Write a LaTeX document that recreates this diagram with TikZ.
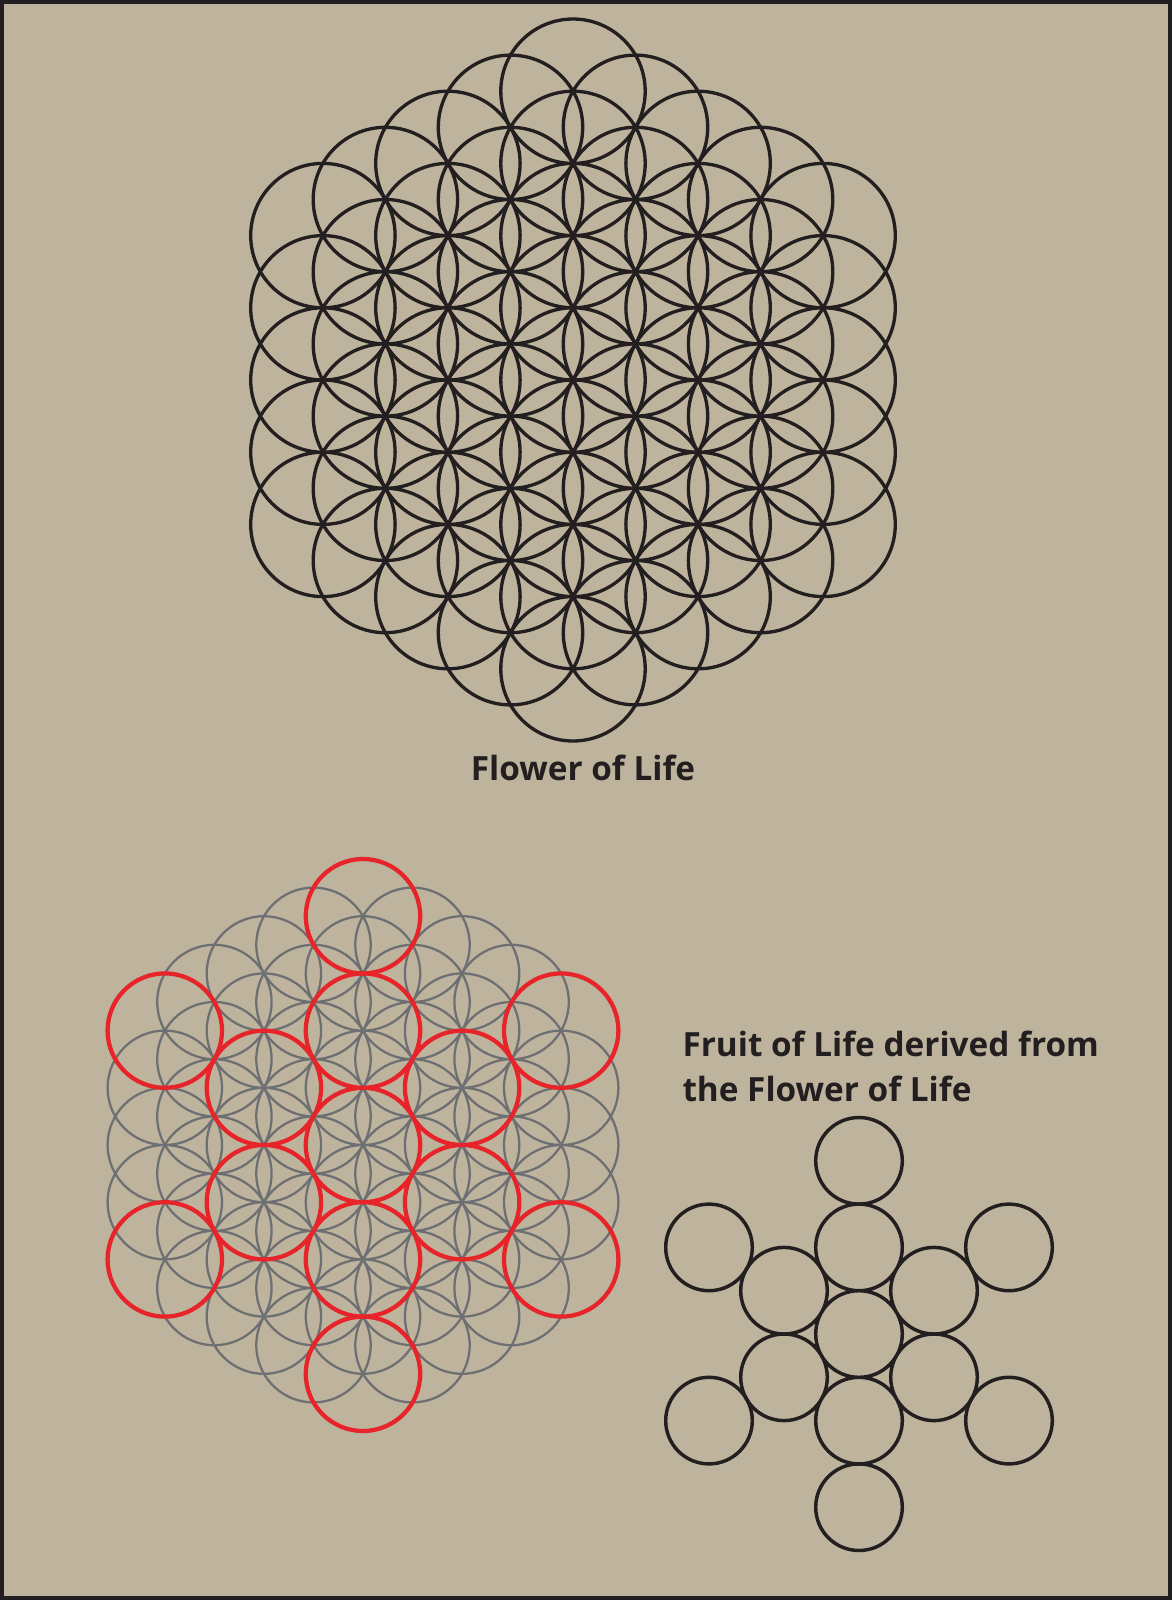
\documentclass[tikz,border=0pt]{standalone}
\usepackage{fontspec}
\setmainfont{Open Sans}
\tikzset{every picture/.style={line width=0.75pt}}
\tikzset{
  flowerline/.style={draw={rgb, 255:red, 35; green, 31; blue, 32 }, line width=2.5pt},
  greyline/.style={draw={rgb, 255:red, 110; green, 111; blue, 115 }, line width=1.7pt},
  fruitred/.style={draw={rgb, 255:red, 230; green, 36; blue, 41 }, line width=3.2pt},
  fruitline/.style={draw={rgb, 255:red, 35; green, 31; blue, 32 }, line width=2.6pt},
  titletext/.style={text={rgb, 255:red, 35; green, 31; blue, 32 }, font=\fontsize{25pt}{33.75pt}\selectfont\bfseries, inner sep=0pt}
}

\begin{document}
\begin{tikzpicture}[x=0.75pt,y=0.75pt,yscale=-1,xscale=1]
\useasboundingbox (0,0) rectangle (1172,1600);

%Shape: Rectangle (background and frame)
\draw  [fill={rgb, 255:red, 190; green, 180; blue, 157 }, draw={rgb, 255:red, 35; green, 31; blue, 32 }, line width=3pt] (2,2) -- (1170,2) -- (1170,1598) -- (2,1598) -- cycle ;

%Shape: Circle (flower, column -4)
\draw  [flowerline] (322.9,235.6) circle (72.2) (322.9,307.8) circle (72.2) (322.9,380) circle (72.2) (322.9,452.2) circle (72.2) (322.9,524.4) circle (72.2) ;
%Shape: Circle (flower, column -3)
\draw  [flowerline] (385.4,199.5) circle (72.2) (385.4,271.7) circle (72.2) (385.4,343.9) circle (72.2) (385.4,416.1) circle (72.2) (385.4,488.3) circle (72.2) (385.4,560.5) circle (72.2) ;
%Shape: Circle (flower, column -2)
\draw  [flowerline] (447.9,163.4) circle (72.2) (447.9,235.6) circle (72.2) (447.9,307.8) circle (72.2) (447.9,380) circle (72.2) (447.9,452.2) circle (72.2) (447.9,524.4) circle (72.2) (447.9,596.6) circle (72.2) ;
%Shape: Circle (flower, column -1)
\draw  [flowerline] (510.5,127.3) circle (72.2) (510.5,199.5) circle (72.2) (510.5,271.7) circle (72.2) (510.5,343.9) circle (72.2) (510.5,416.1) circle (72.2) (510.5,488.3) circle (72.2) (510.5,560.5) circle (72.2) (510.5,632.7) circle (72.2) ;
%Shape: Circle (flower, column 0)
\draw  [flowerline] (573,91.2) circle (72.2) (573,163.4) circle (72.2) (573,235.6) circle (72.2) (573,307.8) circle (72.2) (573,380) circle (72.2) (573,452.2) circle (72.2) (573,524.4) circle (72.2) (573,596.6) circle (72.2) (573,668.8) circle (72.2) ;
%Shape: Circle (flower, column 1)
\draw  [flowerline] (635.5,127.3) circle (72.2) (635.5,199.5) circle (72.2) (635.5,271.7) circle (72.2) (635.5,343.9) circle (72.2) (635.5,416.1) circle (72.2) (635.5,488.3) circle (72.2) (635.5,560.5) circle (72.2) (635.5,632.7) circle (72.2) ;
%Shape: Circle (flower, column 2)
\draw  [flowerline] (698.1,163.4) circle (72.2) (698.1,235.6) circle (72.2) (698.1,307.8) circle (72.2) (698.1,380) circle (72.2) (698.1,452.2) circle (72.2) (698.1,524.4) circle (72.2) (698.1,596.6) circle (72.2) ;
%Shape: Circle (flower, column 3)
\draw  [flowerline] (760.6,199.5) circle (72.2) (760.6,271.7) circle (72.2) (760.6,343.9) circle (72.2) (760.6,416.1) circle (72.2) (760.6,488.3) circle (72.2) (760.6,560.5) circle (72.2) ;
%Shape: Circle (flower, column 4)
\draw  [flowerline] (823.1,235.6) circle (72.2) (823.1,307.8) circle (72.2) (823.1,380) circle (72.2) (823.1,452.2) circle (72.2) (823.1,524.4) circle (72.2) ;

%Shape: Circle (grey flower, column -4)
\draw  [greyline] (164.8,1030.6) circle (57.2) (164.8,1087.8) circle (57.2) (164.8,1145) circle (57.2) (164.8,1202.2) circle (57.2) (164.8,1259.4) circle (57.2) ;
%Shape: Circle (grey flower, column -3)
\draw  [greyline] (214.4,1002) circle (57.2) (214.4,1059.2) circle (57.2) (214.4,1116.4) circle (57.2) (214.4,1173.6) circle (57.2) (214.4,1230.8) circle (57.2) (214.4,1288) circle (57.2) ;
%Shape: Circle (grey flower, column -2)
\draw  [greyline] (263.9,973.4) circle (57.2) (263.9,1030.6) circle (57.2) (263.9,1087.8) circle (57.2) (263.9,1145) circle (57.2) (263.9,1202.2) circle (57.2) (263.9,1259.4) circle (57.2) (263.9,1316.6) circle (57.2) ;
%Shape: Circle (grey flower, column -1)
\draw  [greyline] (313.5,944.8) circle (57.2) (313.5,1002) circle (57.2) (313.5,1059.2) circle (57.2) (313.5,1116.4) circle (57.2) (313.5,1173.6) circle (57.2) (313.5,1230.8) circle (57.2) (313.5,1288) circle (57.2) (313.5,1345.2) circle (57.2) ;
%Shape: Circle (grey flower, column 0)
\draw  [greyline] (363,916.2) circle (57.2) (363,973.4) circle (57.2) (363,1030.6) circle (57.2) (363,1087.8) circle (57.2) (363,1145) circle (57.2) (363,1202.2) circle (57.2) (363,1259.4) circle (57.2) (363,1316.6) circle (57.2) (363,1373.8) circle (57.2) ;
%Shape: Circle (grey flower, column 1)
\draw  [greyline] (412.5,944.8) circle (57.2) (412.5,1002) circle (57.2) (412.5,1059.2) circle (57.2) (412.5,1116.4) circle (57.2) (412.5,1173.6) circle (57.2) (412.5,1230.8) circle (57.2) (412.5,1288) circle (57.2) (412.5,1345.2) circle (57.2) ;
%Shape: Circle (grey flower, column 2)
\draw  [greyline] (462.1,973.4) circle (57.2) (462.1,1030.6) circle (57.2) (462.1,1087.8) circle (57.2) (462.1,1145) circle (57.2) (462.1,1202.2) circle (57.2) (462.1,1259.4) circle (57.2) (462.1,1316.6) circle (57.2) ;
%Shape: Circle (grey flower, column 3)
\draw  [greyline] (511.6,1002) circle (57.2) (511.6,1059.2) circle (57.2) (511.6,1116.4) circle (57.2) (511.6,1173.6) circle (57.2) (511.6,1230.8) circle (57.2) (511.6,1288) circle (57.2) ;
%Shape: Circle (grey flower, column 4)
\draw  [greyline] (561.2,1030.6) circle (57.2) (561.2,1087.8) circle (57.2) (561.2,1145) circle (57.2) (561.2,1202.2) circle (57.2) (561.2,1259.4) circle (57.2) ;

%Shape: Circle (red fruit, centre and inner ring)
\draw  [fruitred] (363,1145) circle (57.2) (363,1030.6) circle (57.2) (462.1,1087.8) circle (57.2) (462.1,1202.2) circle (57.2) (363,1259.4) circle (57.2) (263.9,1202.2) circle (57.2) (263.9,1087.8) circle (57.2) ;
%Shape: Circle (red fruit, outer ring)
\draw  [fruitred] (363,916.2) circle (57.2) (561.2,1030.6) circle (57.2) (561.2,1259.4) circle (57.2) (363,1373.8) circle (57.2) (164.8,1259.4) circle (57.2) (164.8,1030.6) circle (57.2) ;

%Shape: Circle (fruit, centre and inner ring)
\draw  [fruitline] (859,1334) circle (43.3) (859,1247.4) circle (43.3) (934,1290.7) circle (43.3) (934,1377.3) circle (43.3) (859,1420.6) circle (43.3) (784,1377.3) circle (43.3) (784,1290.7) circle (43.3) ;
%Shape: Circle (fruit, outer ring)
\draw  [fruitline] (859,1160.8) circle (43.3) (1009,1247.4) circle (43.3) (1009,1420.6) circle (43.3) (859,1507.2) circle (43.3) (709,1420.6) circle (43.3) (709,1247.4) circle (43.3) ;

% Text Node
\draw (583,780) node (flowertitle) [titletext, anchor=base] {Flower of Life};
% Text Node
\draw (682,1101.7) node (fruittitle) [titletext, anchor=base west, align=left] {Fruit of Life derived from\\the Flower of Life};

\end{tikzpicture}
\end{document}
